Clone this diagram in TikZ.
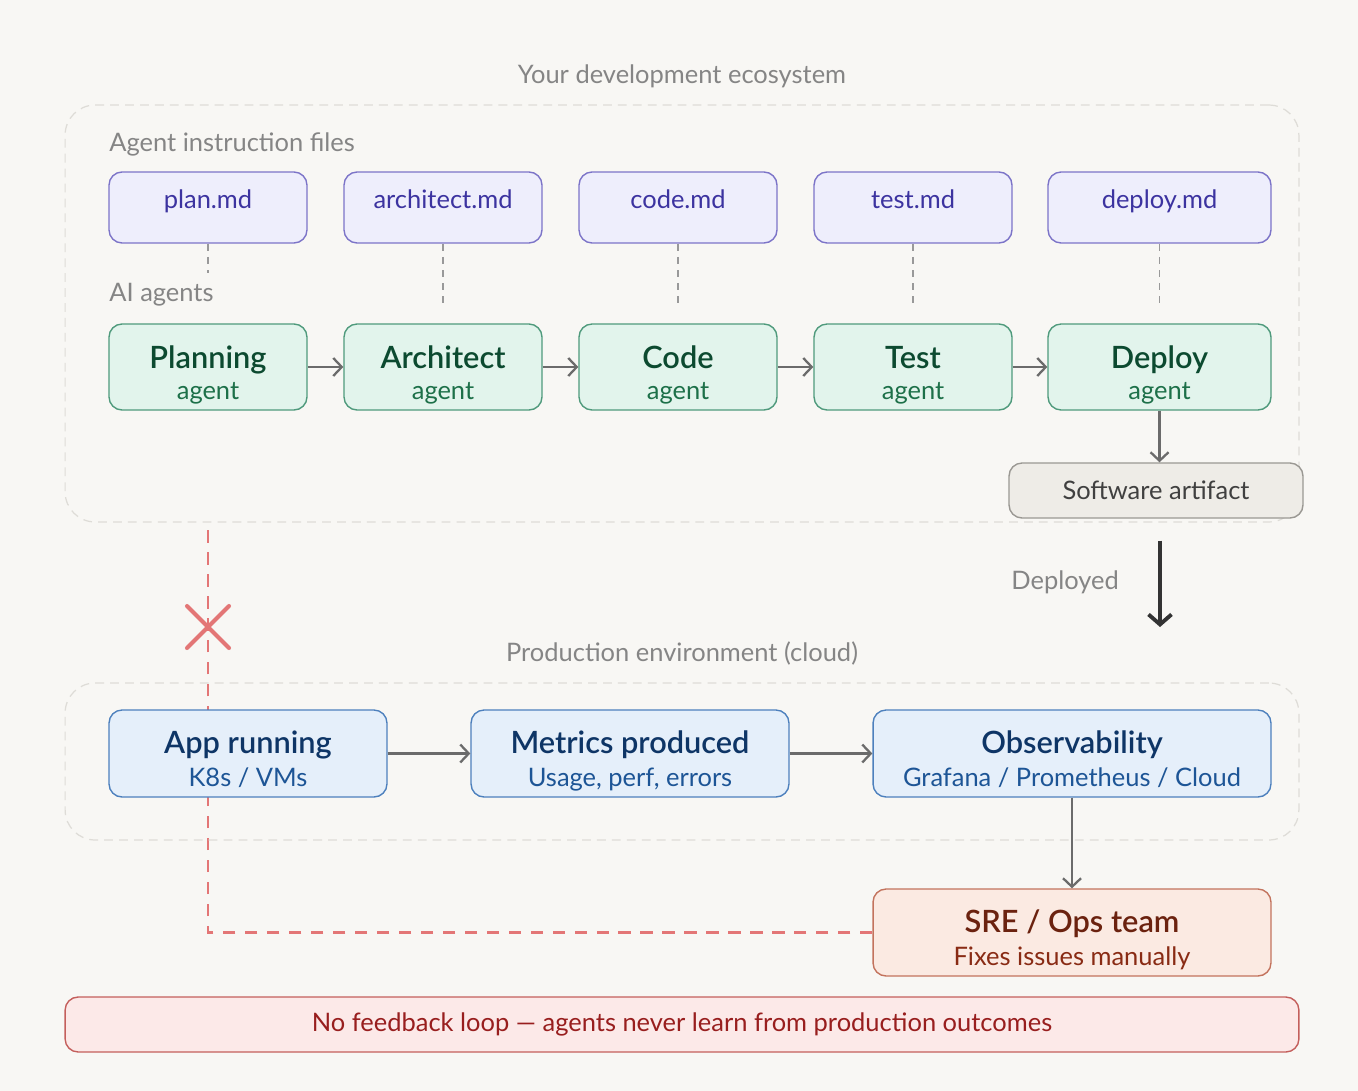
\documentclass[tikz,border=0pt]{standalone}
\usepackage{fontspec}
\IfFontExistsTF{Lato Semibold}{\setmainfont{Lato}[BoldFont={Lato Semibold}]}{\setmainfont{Lato}}
\usetikzlibrary{arrows.meta}
\usetikzlibrary{positioning}

\definecolor{bgcol}{HTML}{F8F7F4}
\definecolor{zoneline}{HTML}{DEDCD7}
\definecolor{greytext}{HTML}{858585}
\definecolor{flowcol}{HTML}{6B6B6B}
\definecolor{mdfill}{HTML}{EEEEFC}
\definecolor{mdline}{HTML}{7C74C8}
\definecolor{mdtext}{HTML}{3C33A0}
\definecolor{agfill}{HTML}{E2F4EC}
\definecolor{agline}{HTML}{4F9A7C}
\definecolor{agtitle}{HTML}{0C4A30}
\definecolor{agtext}{HTML}{1D7049}
\definecolor{artfill}{HTML}{EEECE7}
\definecolor{artline}{HTML}{9A9893}
\definecolor{prodfill}{HTML}{E5EFFA}
\definecolor{prodline}{HTML}{4D80BD}
\definecolor{prodtitle}{HTML}{0E3566}
\definecolor{prodtext}{HTML}{1D5596}
\definecolor{opsfill}{HTML}{FBEAE2}
\definecolor{opsline}{HTML}{C3735D}
\definecolor{opstitle}{HTML}{6B220F}
\definecolor{opstext}{HTML}{892B14}
\definecolor{bannerfill}{HTML}{FCE9E8}
\definecolor{bannerline}{HTML}{C45F5C}
\definecolor{bannertext}{HTML}{981E1E}
\definecolor{nofeedcol}{HTML}{E37676}

% two lines: title and subtitle, fixed struts so all boxes line up
\newcommand{\boxtitle}[2]{{\fontsize{17.5}{19}\selectfont\bfseries\rule[-5pt]{0pt}{28pt}#1}\\[2pt]{\fontsize{14.5}{16}\selectfont\rule[-4pt]{0pt}{11pt}#2}}

\tikzset{
    zone/.style={draw=zoneline, line width=0.7pt, dash pattern=on 5pt off 3.5pt, rounded corners=0.6cm, minimum width=24.68cm},
    box/.style={draw, line width=0.8pt, rounded corners=0.26cm, align=center, inner sep=0pt},
    mdfile/.style={box, fill=mdfill, draw=mdline, text=mdtext, minimum width=3.96cm, minimum height=1.42cm, text height=0.75em, text depth=0.64em, font=\fontsize{14.5}{16}\selectfont},
    agentbox/.style={box, fill=agfill, draw=agline, text=agtext, minimum width=3.96cm, minimum height=1.72cm},
    prodbox/.style={box, fill=prodfill, draw=prodline, text=prodtext, minimum height=1.74cm},
    opsbox/.style={box, fill=opsfill, draw=opsline, text=opstext, minimum width=7.96cm, minimum height=1.74cm},
    artifactbox/.style={box, fill=artfill, draw=artline, text=black!75, minimum width=5.88cm, minimum height=1.1cm, font=\fontsize{14.5}{16}\selectfont},
    bannerbox/.style={box, fill=bannerfill, draw=bannerline, text=bannertext, minimum width=24.68cm, minimum height=1.1cm, font=\fontsize{14.5}{16}\selectfont},
    zonelabel/.style={text=greytext, font=\fontsize{14.5}{16}\selectfont},
    flow/.style={draw=flowcol, line width=1.3pt, -{Straight Barb[length=1.7mm, width=3.6mm]}},
    link/.style={draw=black!40, line width=0.9pt, dash pattern=on 4pt off 3.5pt},
    nofeed/.style={draw=nofeedcol, line width=1.4pt, dash pattern=on 7pt off 5.5pt},
}

\pgfdeclarelayer{back}
\pgfsetlayers{back,main}

\begin{document}
\begin{tikzpicture}[x=0.02cm, y=-0.02cm]

\useasboundingbox (0,0) rectangle (1358,1091);

% containers
\node[zone, minimum height=8.34cm] (eco) at (682,313.5) {};
\node[zone, minimum height=3.14cm] (cloud) at (682,761.5) {};
\node[zonelabel] (eco-title) at (682,76) {Your development ecosystem};
\node[zonelabel] (cloud-title) at (682,653) {Production environment (cloud)};
\node[zonelabel, anchor=west, inner sep=0pt] (files-title) at (109,144) {Agent instruction files};
\node[zonelabel, anchor=west, inner sep=0pt] (agents-title) at (109,295) {AI agents};

% instruction files
\node[mdfile] (plan-md) at (208,207.5) {plan.md};
\node[mdfile] (arch-md) at (443,207.5) {architect.md};
\node[mdfile] (code-md) at (678,207.5) {code.md};
\node[mdfile] (test-md) at (913,207.5) {test.md};
\node[mdfile, minimum width=4.46cm] (deploy-md) at (1159.5,207.5) {deploy.md};

% agents
\node[agentbox] (plan) at (208,367) {\boxtitle{\color{agtitle}Planning}{agent}};
\node[agentbox] (arch) at (443,367) {\boxtitle{\color{agtitle}Architect}{agent}};
\node[agentbox] (code) at (678,367) {\boxtitle{\color{agtitle}Code}{agent}};
\node[agentbox] (test) at (913,367) {\boxtitle{\color{agtitle}Test}{agent}};
\node[agentbox, minimum width=4.46cm] (deploy) at (1159.5,367) {\boxtitle{\color{agtitle}Deploy}{agent}};

\node[artifactbox] (artifact) at (1156,490.5) {Software artifact};

% file -> agent links
\coordinate (plan-end) at ([yshift=0.2cm] agents-title.north -| plan);
\foreach \f in {arch, code, test, deploy}{
    \coordinate (\f-end) at ([yshift=0.3cm] \f.north);
}
\foreach \f in {plan, arch, code, test, deploy}{
    \draw[link] (\f-md.south) -- (\f-end);
}

\draw[flow] (plan) -- (arch);
\draw[flow] (arch) -- (code);
\draw[flow] (code) -- (test);
\draw[flow] (test) -- (deploy);
\draw[flow] (deploy.south) -- (deploy.south |- artifact.north);

% deployed
\coordinate (deploy-end) at (1160,627);
\draw[draw=black!80, line width=2.2pt, -{Straight Barb[length=2mm, width=4.6mm]}, shorten <=0.44cm] (artifact.south -| deploy-end) -- (deploy-end);
\node[zonelabel, anchor=east] (deployed) at (1125,582) {Deployed};

% production
\node[prodbox, minimum width=5.56cm] (app) at (248,753.5) {\boxtitle{\color{prodtitle}App running}{K8s / VMs}};
\node[prodbox, minimum width=6.36cm] (metrics) at (630,753.5) {\boxtitle{\color{prodtitle}Metrics produced}{Usage, perf, errors}};
\node[prodbox, minimum width=7.96cm] (obs) at (1072,753.5) {\boxtitle{\color{prodtitle}Observability}{Grafana / Prometheus / Cloud}};
\node[opsbox] (sre) at (1072,932.5) {\boxtitle{\color{opstitle}SRE / Ops team}{Fixes issues manually}};

\draw[flow] (app) -- (metrics);
\draw[flow] (metrics) -- (obs);
\draw[flow] (obs) -- (sre);

% no feedback
\coordinate (nofeed-top) at ([yshift=-0.06cm] eco.south -| plan.south);
\begin{pgfonlayer}{back}
    \fill[bgcol] (0,0) rectangle (1358,1091);
    \draw[nofeed] (sre.west) -| (nofeed-top);
\end{pgfonlayer}
\coordinate (cross) at (208,627);
\draw[nofeedcol, line width=2.3pt, line cap=round] ([shift={(-21,-21)}] cross) -- ([shift={(21,21)}] cross) ([shift={(21,-21)}] cross) -- ([shift={(-21,21)}] cross);

\node[bannerbox] (banner) at (682,1024.5) {No feedback loop — agents never learn from production outcomes};

\end{tikzpicture}
\end{document}
